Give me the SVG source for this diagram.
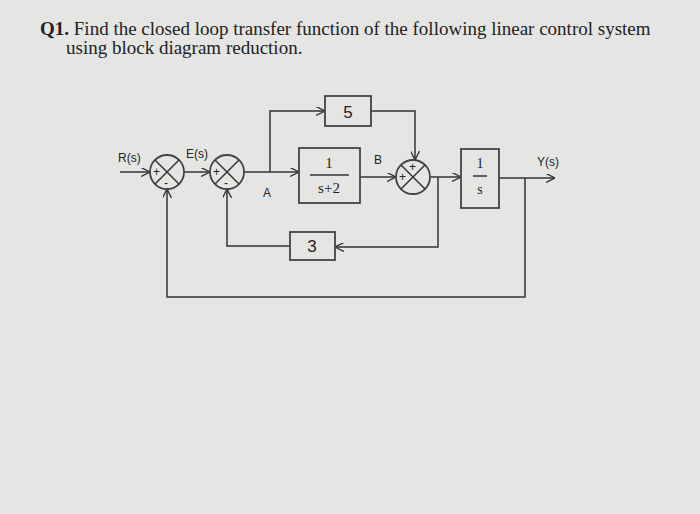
<svg xmlns="http://www.w3.org/2000/svg" width="700" height="514" viewBox="0 0 700 514">
<defs>
<marker id="ah" viewBox="0 0 10 10" refX="10" refY="5" markerWidth="9" markerHeight="9" orient="auto" markerUnits="userSpaceOnUse"><path d="M0,0 L10,5 L0,10" fill="none" stroke="#333" stroke-width="1.5"/></marker>
</defs>
<style>
.ln{fill:none;stroke:#333;stroke-width:1.5}
.bx{fill:none;stroke:#444;stroke-width:1.8}
.t{font-family:"Liberation Sans",Arial,sans-serif;fill:#222}
.s{font-family:"Liberation Serif",serif;fill:#222}
</style>
<rect width="700" height="514" fill="#e5e5e3"/>
<text class="s" x="40" y="35" font-size="19"><tspan font-weight="bold">Q1.</tspan> Find the closed loop transfer function of the following linear control system</text>
<text class="s" x="66" y="54" font-size="19">using block diagram reduction.</text>
<g id="connectors">
<path class="ln" d="M120,172 H150" marker-end="url(#ah)"/>
<path class="ln" d="M184,172 H210" marker-end="url(#ah)"/>
<path class="ln" d="M244,172 H299" marker-end="url(#ah)"/>
<path class="ln" d="M270,172 V111 H325" marker-end="url(#ah)"/>
<path class="ln" d="M371,111 H415 V160" marker-end="url(#ah)"/>
<path class="ln" d="M360,177 H396" marker-end="url(#ah)"/>
<path class="ln" d="M430,177 H461" marker-end="url(#ah)"/>
<path class="ln" d="M438,177 V247 H335" marker-end="url(#ah)"/>
<path class="ln" d="M290,246 H227 V189" marker-end="url(#ah)"/>
<path class="ln" d="M499,178 H555" marker-end="url(#ah)"/>
<path class="ln" d="M525,178 V297 H167 V189" marker-end="url(#ah)"/>
</g>
<g id="sum1"><circle class="bx" cx="167" cy="172" r="17"/><path class="ln" d="M155,160 L179,184 M179,160 L155,184"/><text class="t" x="153" y="176" font-size="12">+</text><text class="t" x="164" y="187" font-size="12">-</text></g>
<g id="sum2"><circle class="bx" cx="227" cy="172" r="17"/><path class="ln" d="M215,160 L239,184 M239,160 L215,184"/><text class="t" x="213" y="176" font-size="12">+</text><text class="t" x="224" y="187" font-size="12">-</text></g>
<g id="sum3"><circle class="bx" cx="413" cy="177" r="17"/><path class="ln" d="M401,165 L425,189 M425,165 L401,189"/><text class="t" x="399" y="181" font-size="12">+</text><text class="t" x="409" y="171" font-size="12">+</text></g>
<g id="box5"><rect class="bx" x="325" y="96" width="46" height="30"/><text class="t" x="348" y="118" font-size="17" text-anchor="middle">5</text></g>
<g id="boxG"><rect class="bx" x="299" y="148" width="61" height="55"/><text class="s" x="329" y="168" font-size="15" text-anchor="middle">1</text><line class="ln" x1="310" y1="175" x2="349" y2="175"/><text class="s" x="329" y="193" font-size="15" text-anchor="middle">s+2</text></g>
<g id="boxI"><rect class="bx" x="461" y="149" width="38" height="59"/><text class="s" x="480" y="168" font-size="14" text-anchor="middle">1</text><line class="ln" x1="473" y1="176" x2="487" y2="176"/><text class="s" x="480" y="194" font-size="14" text-anchor="middle">s</text></g>
<g id="box3"><rect class="bx" x="290" y="232" width="45" height="28"/><text class="t" x="312" y="252" font-size="17" text-anchor="middle">3</text></g>
<g id="labels">
<text class="t" x="118" y="162" font-size="12">R(s)</text>
<text class="t" x="186" y="158" font-size="12">E(s)</text>
<text class="t" x="263" y="197" font-size="12">A</text>
<text class="t" x="374" y="164" font-size="12">B</text>
<text class="t" x="537" y="166" font-size="12">Y(s)</text>
</g>
</svg>
